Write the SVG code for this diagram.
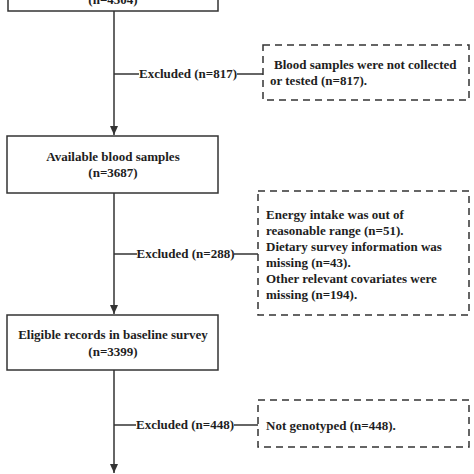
<svg xmlns="http://www.w3.org/2000/svg" width="474" height="474" viewBox="0 0 474 474">
<style>
text{font-family:"Liberation Serif","Times New Roman",serif;font-weight:bold;font-size:13px;fill:#1e1e1e}
.c{text-anchor:middle}
.box{fill:#fff;stroke:#333;stroke-width:1.5}
.dash{fill:#fff;stroke:#333;stroke-width:1.5;stroke-dasharray:7,5}
.ln{stroke:#333;stroke-width:1.5;fill:none}
</style>
<defs>
<marker id="ah" markerWidth="10" markerHeight="10" refX="9" refY="5" orient="auto" markerUnits="userSpaceOnUse">
<path d="M0,1 L9,5 L0,9 Z" fill="#333"/>
</marker>
</defs>
<g id="connectors">
<line class="ln" x1="114" y1="11" x2="114" y2="135" marker-end="url(#ah)"/>
<line class="ln" x1="114" y1="193" x2="114" y2="314" marker-end="url(#ah)"/>
<line class="ln" x1="114" y1="370" x2="114" y2="473" marker-end="url(#ah)"/>
<line class="ln" x1="114" y1="74" x2="139" y2="74"/>
<line class="ln" x1="237" y1="74" x2="263" y2="74"/>
<line class="ln" x1="114" y1="254" x2="137" y2="254"/>
<line class="ln" x1="234" y1="254" x2="258" y2="254"/>
<line class="ln" x1="114" y1="425" x2="136" y2="425"/>
<line class="ln" x1="234" y1="425" x2="258" y2="425"/>
<text x="188" y="78" class="c">Excluded (n=817)</text>
<text x="185.5" y="258" class="c">Excluded (n=288)</text>
<text x="185" y="429" class="c">Excluded (n=448)</text>
</g>
<g id="n1">
<rect class="box" x="8" y="-30" width="210" height="41"/>
<text x="113" y="4" class="c">(n=4504)</text>
</g>
<g id="ex1">
<rect class="dash" x="263" y="45" width="206" height="55"/>
<text x="274" y="69">Blood samples were not collected</text>
<text x="270" y="85">or tested (n=817).</text>
</g>
<g id="n2">
<rect class="box" x="7" y="136" width="211" height="57"/>
<text x="113" y="161" class="c">Available blood samples</text>
<text x="113" y="177" class="c">(n=3687)</text>
</g>
<g id="ex2">
<rect class="dash" x="258" y="191" width="211" height="124"/>
<text x="266" y="219">Energy intake was out of</text>
<text x="266" y="235">reasonable range (n=51).</text>
<text x="266" y="251">Dietary survey information was</text>
<text x="266" y="267">missing (n=43).</text>
<text x="266" y="283">Other relevant covariates were</text>
<text x="266" y="299">missing (n=194).</text>
</g>
<g id="n3">
<rect class="box" x="7" y="315" width="211" height="55"/>
<text x="113" y="339" class="c">Eligible records in baseline survey</text>
<text x="113" y="356" class="c">(n=3399)</text>
</g>
<g id="ex3">
<rect class="dash" x="258" y="400" width="211" height="47"/>
<text x="266" y="430">Not genotyped (n=448).</text>
</g>
</svg>
